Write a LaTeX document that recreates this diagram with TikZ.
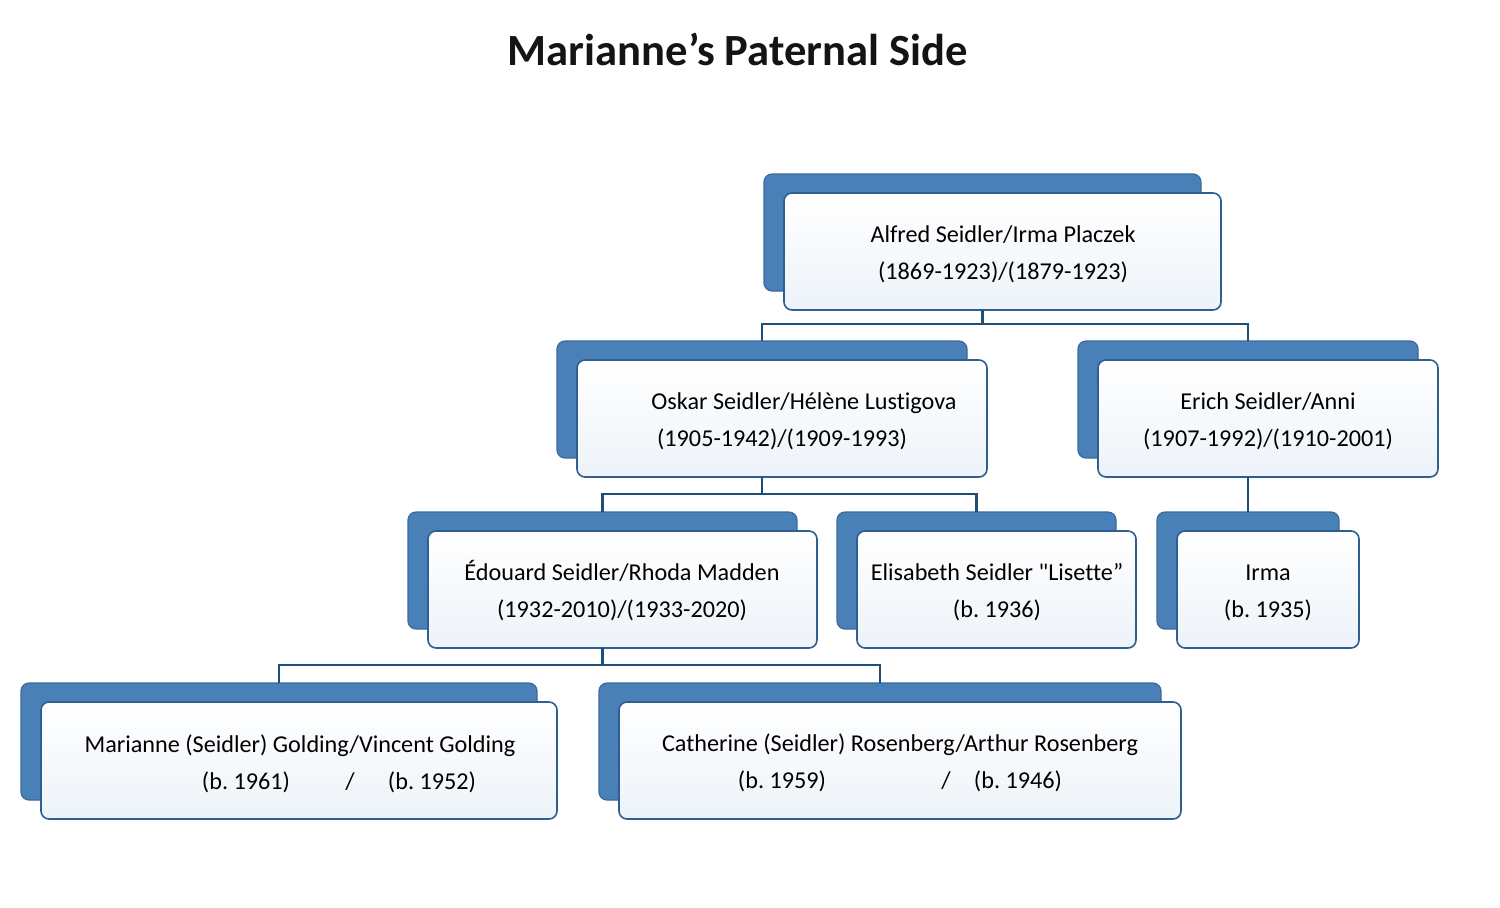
\documentclass[tikz,border=0pt]{standalone}
\usepackage{fontspec}
\setmainfont{Carlito}[Ligatures={TeXOff,NoCommon}]
\frenchspacing
\definecolor{backblue}{HTML}{4A80B8}
\definecolor{backedge}{HTML}{3A6A9C}
\definecolor{frontedge}{HTML}{2F5F90}
\definecolor{linkblue}{HTML}{1F4E79}
\definecolor{frontlight}{HTML}{EDF3F9}
\tikzset{
  backbox/.style={draw=backedge, fill=backblue, line width=0.6pt, rounded corners=4pt, inner sep=0pt, outer sep=0pt},
  frontbox/.style={draw=frontedge, top color=white, bottom color=frontlight, line width=0.8pt, rounded corners=4pt, inner sep=0pt, outer sep=0pt},
  link/.style={draw=linkblue, line width=1.1pt},
  txt/.style={anchor=base, inner sep=0pt, font=\fontsize{12.1}{14}\selectfont, text=black},
}
\newcommand{\famnode}[5]{%
  \node[backbox, minimum width={(#4-#2)*0.5pt}, minimum height={(#5-#3)*0.5pt}] (#1B) at ({(#2+#4)/2},{(#3+#5)/2}) {};
  \node[frontbox, minimum width={(#4-#2)*0.5pt}, minimum height={(#5-#3)*0.5pt}] (#1F) at ({(#2+#4)/2+20},{(#3+#5)/2+19}) {};
}
\begin{document}
\begin{tikzpicture}[x=0.5pt,y=-0.5pt]
\useasboundingbox[fill=white] (0,0) rectangle (1500,907);
\node[anchor=base, inner sep=0pt, font=\fontsize{22.3}{26}\selectfont\bfseries, text=black!92] (title) at (738,65) {Marianne’s Paternal Side};

\famnode{alf}{764}{174}{1201}{291}
\famnode{osk}{557}{341}{967}{458}
\famnode{eri}{1078}{341}{1418}{458}
\famnode{edo}{408}{512}{797}{629}
\famnode{eli}{837}{512}{1116}{629}
\famnode{irm}{1157}{512}{1339}{629}
\famnode{mar}{21}{683}{537}{800}
\famnode{cat}{599}{683}{1161}{800}

% connectors
\coordinate (j1) at (0,324);
\coordinate (j2) at (0,494);
\coordinate (j3) at (0,665);
\draw[link] (alfB.center |- alfF.south) -- (alfB.center |- j1) -| (oskB.north);
\draw[link] (alfB.center |- j1) -| (eriB.north);
\draw[link] (oskB.center |- oskF.south) -- (oskB.center |- j2) -| (edoB.north);
\draw[link] (oskB.center |- j2) -| (eliB.north);
\draw[link] (eriB.center |- eriF.south) -- (irmB.north);
\draw[link] (edoB.center |- edoF.south) -- (edoB.center |- j3) -| (marB.north);
\draw[link] (edoB.center |- j3) -| (catB.north);

% texts
\node[txt] (alf1) at (1003,242) {Alfred Seidler/Irma Placzek};
\node[txt] (alf2) at (1003,279) {(1869-1923)/(1879-1923)};
\node[txt] (osk1) at (804,409) {Oskar Seidler/Hélène Lustigova};
\node[txt] (osk2) at (782,446) {(1905-1942)/(1909-1993)};
\node[txt] (eri1) at (1268,409) {Erich Seidler/Anni};
\node[txt] (eri2) at (1268,446) {(1907-1992)/(1910-2001)};
\node[txt] (edo1) at (622,580) {Édouard Seidler/Rhoda Madden};
\node[txt] (edo2) at (622,617) {(1932-2010)/(1933-2020)};
\node[txt] (eli1) at (997,580) {Elisabeth Seidler "Lisette”};
\node[txt] (eli2) at (997,617) {(b. 1936)};
\node[txt] (irm1) at (1268,580) {Irma};
\node[txt] (irm2) at (1268,617) {(b. 1935)};
\node[txt] (mar1) at (300,752) {Marianne (Seidler) Golding/Vincent Golding};
\node[txt] (mar2) at (246,789) {(b. 1961)};
\node[txt] (mar3) at (350,789) {/};
\node[txt] (mar4) at (432,789) {(b. 1952)};
\node[txt] (cat1) at (900,751) {Catherine (Seidler) Rosenberg/Arthur Rosenberg};
\node[txt] (cat2) at (782,788) {(b. 1959)};
\node[txt] (cat3) at (946,788) {/};
\node[txt] (cat4) at (1018,788) {(b. 1946)};
\end{tikzpicture}
\end{document}
